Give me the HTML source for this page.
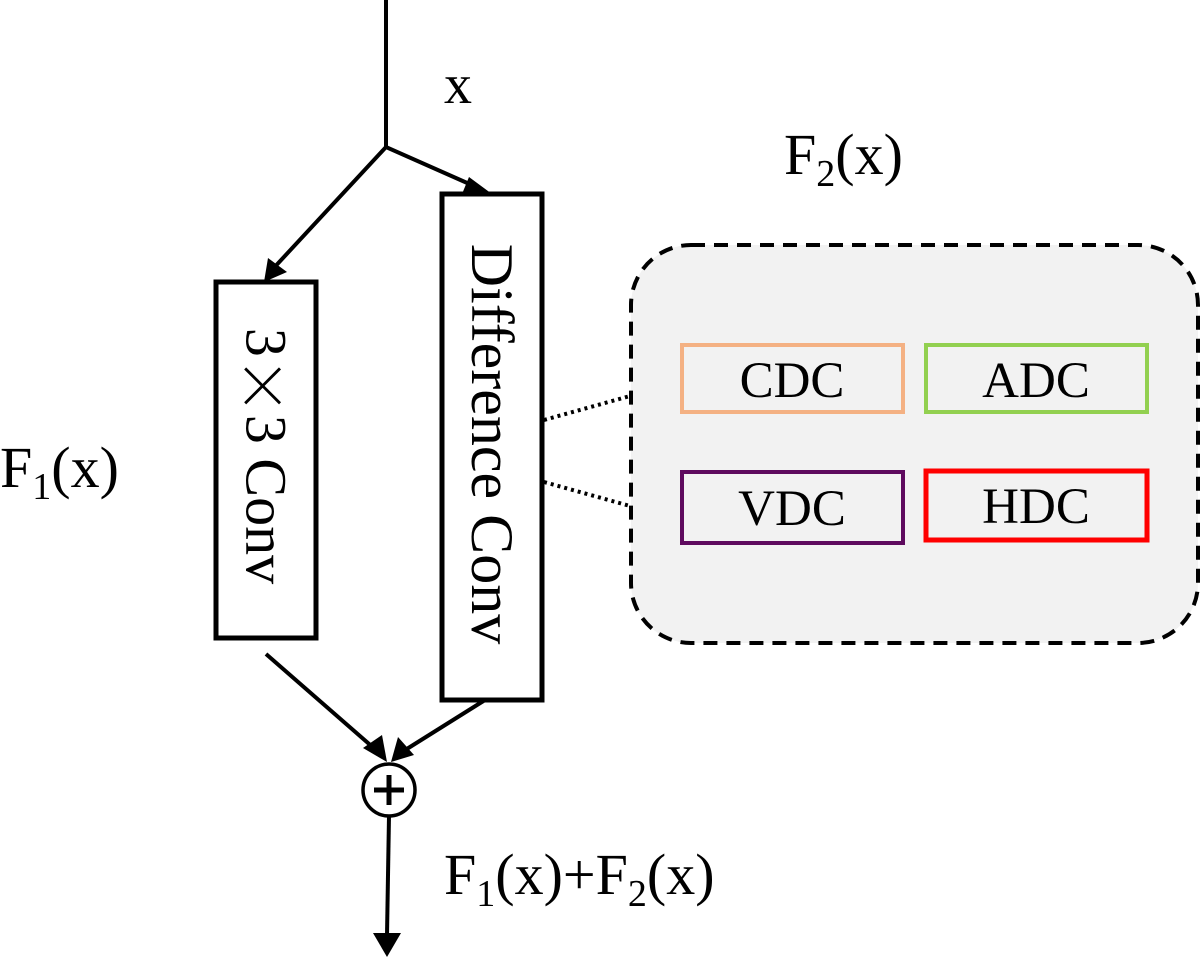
<!DOCTYPE html>
<html><head><style>
html,body{margin:0;padding:0;background:#fff;}
svg{display:block;}
text{font-family:"Liberation Serif",serif;fill:#000;}
</style></head><body>
<svg width="1200" height="959" viewBox="0 0 1200 959">
<g stroke="#000" stroke-width="4" fill="none">
<line x1="386" y1="0" x2="386" y2="147"/>
<polyline points="270,272 386,147 474,186"/>
<rect x="216" y="282" width="100" height="356" stroke-width="5"/>
<rect x="442" y="194" width="100" height="506" stroke-width="5"/>
<line x1="266" y1="654" x2="376" y2="750"/>
<line x1="485" y1="700" x2="402" y2="752"/>
<circle cx="389" cy="790" r="26" stroke-width="3.5"/>
<line x1="389" y1="816" x2="387" y2="935"/>
<line x1="374" y1="790" x2="404" y2="790" stroke-width="5"/>
<line x1="389" y1="775" x2="389" y2="805" stroke-width="5"/>
</g>
<g fill="#000">
<polygon points="264,282 268,258 287,272"/>
<polygon points="492,194 469,177 462,194"/>
<polygon points="387,762 363,748 382,735"/>
<polygon points="391,762 398,737 414,755"/>
<polygon points="387,957 373,933 401,933"/>
</g>
<rect x="631" y="245" width="567" height="398" rx="60" fill="#f2f2f2" stroke="#000" stroke-width="4" stroke-dasharray="14,9"/>
<g stroke="#000" stroke-width="4" stroke-dasharray="3,4">
<line x1="544" y1="420" x2="630" y2="396"/>
<line x1="544" y1="482" x2="630" y2="506"/>
</g>
<rect x="682" y="345" width="221" height="67" fill="none" stroke="#f4b183" stroke-width="4"/>
<rect x="926" y="345" width="221" height="67" fill="none" stroke="#92d050" stroke-width="4"/>
<rect x="682" y="472" width="221" height="71" fill="none" stroke="#5e0a5e" stroke-width="4"/>
<rect x="926" y="471" width="221" height="69" fill="none" stroke="#ff0000" stroke-width="5"/>
<g font-size="51" text-anchor="middle">
<text x="792" y="397">CDC</text>
<text x="1036" y="397">ADC</text>
<text x="792" y="525">VDC</text>
<text x="1036" y="523">HDC</text>
</g>
<text x="444" y="103" font-size="56">x</text>
<text x="784" y="174" font-size="58">F<tspan font-size="38" dy="12">2</tspan><tspan dy="-12">(x)</tspan></text>
<text x="0" y="487" font-size="58">F<tspan font-size="38" dy="12">1</tspan><tspan dy="-12">(x)</tspan></text>
<text x="444" y="894" font-size="58">F<tspan font-size="38" dy="12">1</tspan><tspan dy="-12">(x)+F</tspan><tspan font-size="38" dy="12">2</tspan><tspan dy="-12">(x)</tspan></text>
<text transform="translate(266,456) rotate(90)" font-size="58" text-anchor="middle" dominant-baseline="central">3<tspan style='font-family:"Noto Sans CJK SC",sans-serif' font-weight="300">×</tspan>3 Conv</text>
<text transform="translate(492,444) rotate(90)" font-size="60" text-anchor="middle" dominant-baseline="central">Difference Conv</text>
</svg>
</body></html>
